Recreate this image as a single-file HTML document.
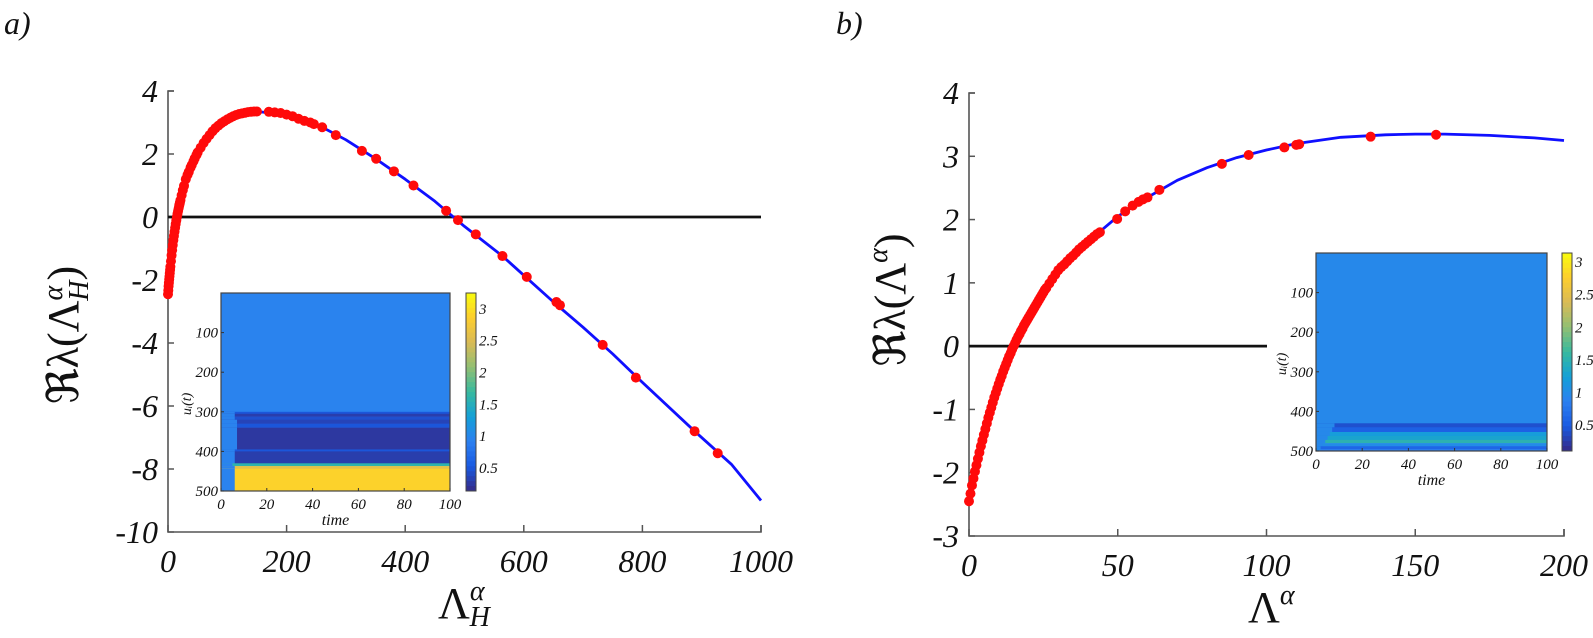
<!DOCTYPE html>
<html><head><meta charset="utf-8">
<style>
html,body{margin:0;padding:0;background:#fff;}
svg{display:block;}
text{font-family:"Liberation Serif",serif;fill:#111;}
.it{font-style:italic;}
</style></head>
<body>
<svg id="fig" width="1593" height="638" viewBox="0 0 1593 638" xmlns="http://www.w3.org/2000/svg">
<text class="it" x="4" y="34" font-size="32">a)</text>
<text class="it" x="836" y="34" font-size="32">b)</text>
<g id="pa"></g>
<g id="pb"></g>
<text transform="translate(78,335) rotate(-90)" text-anchor="middle" font-size="44">ℜλ(Λ<tspan class="it" font-size="28" dy="-16">α</tspan><tspan class="it" font-size="28" dx="-15" dy="26">H</tspan><tspan dy="-10">)</tspan></text>
<text x="438" y="618" font-size="44">Λ<tspan class="it" font-size="28" dy="-18">α</tspan><tspan class="it" font-size="28" dx="-15" dy="26">H</tspan></text>
<text transform="translate(905,300) rotate(-90)" text-anchor="middle" font-size="44">ℜλ(Λ<tspan class="it" font-size="28" dy="-18">α</tspan><tspan dy="18">)</tspan></text>
<text x="1248" y="622" font-size="44">Λ<tspan class="it" font-size="28" dy="-18">α</tspan></text>
</svg>
<script>
// ---------- Panel A data ----------
const aLineX = [0,5,10,15,20,30,50,75,100,150,200,250,300,350,400,450,500,564,600,650,700,750,800,888,950,1000];
const aLineY = [-2.45,-1.4,-0.6,0,0.45,1.2,2.05,2.75,3.1,3.35,3.25,2.95,2.45,1.85,1.2,0.5,-0.3,-1.24,-1.85,-2.7,-3.5,-4.35,-5.25,-6.8,-7.85,-9];
const aPtX = [0,1,2,3,4,5,7,9,11,13,15,18,21,25,30,35,40,45,50,60,70,80,90,100,110,120,130,140,150,170,180,190,200,210,220,230,240,246,260,283,327,351,381,414,469,489,519,564,605,655,661,733,789,888,927,
  0.5,1.5,2.5,3.5,6,8,10,12,14,16,17,19,20,23,27,33,38,43,48,55,65,75,85,95,105,115,125,135,145];
const aPtY = [-2.45,-2.2,-1.98,-1.78,-1.58,-1.4,-1.05,-0.74,-0.47,-0.22,0,0.28,0.53,0.85,1.2,1.43,1.65,1.86,2.05,2.35,2.6,2.82,2.98,3.1,3.2,3.27,3.31,3.34,3.35,3.34,3.32,3.3,3.25,3.2,3.12,3.05,3.0,2.95,2.85,2.6,2.1,1.85,1.45,1.0,0.2,-0.1,-0.55,-1.24,-1.9,-2.7,-2.8,-4.06,-5.1,-6.8,-7.5,
  -2.33,-2.09,-1.88,-1.68,-1.22,-0.89,-0.6,-0.34,-0.11,0.1,0.19,0.37,0.45,0.69,0.99,1.34,1.57,1.77,1.97,2.2,2.48,2.72,2.9,3.04,3.15,3.24,3.29,3.33,3.35];
const aXTicks = [0,200,400,600,800,1000];
const aYTicks = [-10,-8,-6,-4,-2,0,2,4];
const aBandStart = [0,300,305,312,320,330,340,395,400,430,437,444];
const aBandEnd   = [300,305,312,320,330,340,395,400,430,437,444,500];
const aBandVal   = [0.95,0.5,0.3,0.45,0.35,0.5,0.25,0.5,0.3,1.6,2.6,2.9];
const aTransientEnd = [0,6,6,6,7,7,7,6,6,5,6,6];
// ---------- Panel B data ----------
const bLineX = [0,2,5,10,15,20,25,30,40,50,60,70,80,90,100,110,125,140,150,160,175,190,200];
const bLineY = [-2.45,-1.98,-1.4,-0.6,0,0.45,0.85,1.2,1.65,2.05,2.35,2.62,2.82,2.98,3.1,3.2,3.3,3.34,3.35,3.35,3.33,3.29,3.25];
const bPtX = [0,0.5,1,1.5,2,3,4,5,6,7,8,9,10,11,12,13,14,15,16,17,18,19,20,21,22,23,24,25,26,27,28,30,32,34,36,38,40,42,44,49.8,52.5,55,57,58.5,60,64,85,94,106,110,111,135,157,
  2.5,3.5,4.5,5.5,6.5,7.5,8.5,9.5,10.5,11.5,12.5,13.5,14.5,15.5,16.5,17.5,18.5,19.5,20.5,21.5,22.5,23.5,24.5,25.5,29,31,33,35,37,39,41,43];
const bPtY = [-2.45,-2.33,-2.2,-2.09,-1.98,-1.78,-1.58,-1.4,-1.22,-1.05,-0.89,-0.74,-0.6,-0.47,-0.34,-0.22,-0.11,0,0.1,0.19,0.28,0.37,0.45,0.53,0.61,0.69,0.77,0.85,0.92,0.99,1.06,1.2,1.29,1.39,1.48,1.57,1.65,1.73,1.8,2.01,2.13,2.22,2.28,2.32,2.35,2.47,2.88,3.02,3.14,3.18,3.19,3.31,3.34,
  -1.88,-1.68,-1.49,-1.31,-1.13,-0.97,-0.81,-0.67,-0.53,-0.4,-0.28,-0.16,-0.05,0.05,0.15,0.24,0.33,0.41,0.49,0.57,0.65,0.73,0.81,0.89,1.13,1.25,1.34,1.43,1.53,1.61,1.69,1.77];
const bXTicks = [0,50,100,150,200];
const bYTicks = [-3,-2,-1,0,1,2,3,4];
const bBandStart = [0,430,440,452,462,472,480,488,495];
const bBandEnd   = [430,440,452,462,472,480,488,495,500];
const bBandVal   = [0.95,0.4,0.55,1.2,1.3,1.5,1.0,0.6,0.8];
const bTransientEnd = [0,8,7,6,5,4,3,2,2];
const insetYTicks = [100,200,300,400,500];
const insetXTicks = [0,20,40,60,80,100];
const cbTicks = [0.5,1,1.5,2,2.5,3];

const NS = "http://www.w3.org/2000/svg";
function mk(tag, attrs, parent){const e=document.createElementNS(NS,tag);for(const k in attrs)e.setAttribute(k,attrs[k]);parent.appendChild(e);return e;}
const parulaStops = [[53,42,135],[25,90,225],[44,128,240],[20,160,215],[56,185,158],[146,191,115],[217,186,86],[252,206,46],[249,251,14]];
function parula(t){t=Math.max(0,Math.min(1,t));const p=t*(parulaStops.length-1);const i=Math.min(Math.floor(p),parulaStops.length-2);const f=p-i;const a=parulaStops[i],b=parulaStops[i+1];return `rgb(${Math.round(a[0]+(b[0]-a[0])*f)},${Math.round(a[1]+(b[1]-a[1])*f)},${Math.round(a[2]+(b[2]-a[2])*f)})`;}

function panel(g, cfg){
  const sx = v => cfg.x0 + (v-cfg.xmin)/(cfg.xmax-cfg.xmin)*(cfg.x1-cfg.x0);
  const sy = v => cfg.y0 - (v-cfg.ymin)/(cfg.ymax-cfg.ymin)*(cfg.y0-cfg.y1);
  const ax = mk('path',{d:`M${cfg.x0+6},${sy(cfg.ymax)}H${cfg.x0}V${cfg.y0}H${cfg.x1}V${cfg.y0-7}`,stroke:'#555',fill:'none','stroke-width':1.6},g);
  
  
  cfg.yt.forEach(v=>{
    const t=mk('line',{x1:cfg.x0,x2:cfg.x0+6,y1:sy(v),y2:sy(v),stroke:'#555','stroke-width':1.5},g);
    
    
    const l=mk('text',{x:cfg.x0-10,y:sy(v)+11,'text-anchor':'end','font-size':32,'class':'it'},g);
    l.textContent=v;
    
    
  });
  cfg.xt.forEach(v=>{
    const t=mk('line',{x1:sx(v),x2:sx(v),y1:cfg.y0,y2:cfg.y0-7,stroke:'#555','stroke-width':1.5},g);
    
    
    const l=mk('text',{x:sx(v),y:cfg.y0+40,'text-anchor':'middle','font-size':32,'class':'it'},g);
    l.textContent=v;
    
    
  });
  const z=mk('line',{x1:cfg.x0,x2:cfg.zeroEnd,y1:sy(0),y2:sy(0),stroke:'#111','stroke-width':2.8},g);
  
  
  const d=cfg.lx.map((v,i)=>(i?'L':'M')+sx(v).toFixed(1)+','+sy(cfg.ly[i]).toFixed(1)).join('');
  const c=mk('path',{d:d,stroke:'#1010ff',fill:'none','stroke-width':2.8,'stroke-linejoin':'round'},g);
  
  
  cfg.px.forEach((v,i)=>{
    const p=mk('circle',{cx:sx(v),cy:sy(cfg.py[i]),r:5,fill:'#ff0a0a'},g);
    
    
  });
  const I=cfg.inset;
  const ig=mk('g',{},g);
  
  
  const ry = r => I.y0 + r/500*(I.y1-I.y0);
  const tx = t => I.x0 + t/100*(I.x1-I.x0);
  const cnorm = v => (v-I.cmin)/(I.cmax-I.cmin);
  I.bs.forEach((s,i)=>{
    const r=mk('rect',{x:I.x0,y:ry(s),width:I.x1-I.x0,height:ry(I.be[i])-ry(s)+0.3,fill:parula(cnorm(I.bv[i]))},ig);
    
    
    if(I.te[i]>0){
      const tr=mk('rect',{x:I.x0,y:ry(s),width:tx(I.te[i])-I.x0,height:ry(I.be[i])-ry(s)+0.3,fill:parula(cnorm(0.95))},ig);
      
      
    }
  });
  const fr=mk('rect',{x:I.x0,y:I.y0,width:I.x1-I.x0,height:I.y1-I.y0,fill:'none',stroke:'#444','stroke-width':1.2},ig);
  
  
  insetYTicks.forEach(v=>{
    const t=mk('line',{x1:I.x0,x2:I.x0+3,y1:ry(v),y2:ry(v),stroke:'#333'},ig);
    
    
    const l=mk('text',{x:I.x0-3,y:ry(v)+5,'text-anchor':'end','font-size':15,fill:'#333','class':'it'},ig);
    l.textContent=v;
    
    
  });
  insetXTicks.forEach(v=>{
    const t=mk('line',{x1:tx(v),x2:tx(v),y1:I.y1,y2:I.y1-3,stroke:'#333'},ig);
    
    
    const l=mk('text',{x:tx(v),y:I.y1+18,'text-anchor':'middle','font-size':15,fill:'#333','class':'it'},ig);
    l.textContent=v;
    
    
  });
  const tl=mk('text',{x:(I.x0+I.x1)/2,y:I.y1+34,'text-anchor':'middle','font-size':16,fill:'#333','class':'it'},ig);
  tl.textContent='time';
  
  
  const ul=mk('text',{transform:`translate(${I.x0-30},${ry(280)}) rotate(-90)`,'text-anchor':'middle','font-size':14,fill:'#333','class':'it'},ig);
  ul.textContent='uᵢ(t)';
  
  
  const N=40,h=(I.y1-I.y0)/N;
  for(let k=0;k<N;k++){
    const cr=mk('rect',{x:I.cbx,y:I.y0+k*h,width:10,height:h+0.5,fill:parula(1-(k+0.5)/N)},ig);
    
    
  }
  const cf=mk('rect',{x:I.cbx,y:I.y0,width:10,height:I.y1-I.y0,fill:'none',stroke:'#444'},ig);
  
  
  cbTicks.forEach(v=>{
    const yy=I.y1-cnorm(v)*(I.y1-I.y0);
    const l=mk('text',{x:I.cbx+13,y:yy+5,'font-size':15,fill:'#333','class':'it'},ig);
    l.textContent=v;
    
    
  });
}
panel(document.getElementById('pa'),{x0:168,x1:761,y0:532,y1:91,xmin:0,xmax:1000,ymin:-10,ymax:4,zeroEnd:761,
  xt:aXTicks,yt:aYTicks,lx:aLineX,ly:aLineY,px:aPtX,py:aPtY,
  inset:{x0:221,x1:450,y0:293,y1:491,cbx:466,cmin:0.14,cmax:3.25,bs:aBandStart,be:aBandEnd,bv:aBandVal,te:aTransientEnd}});
panel(document.getElementById('pb'),{x0:969,x1:1564,y0:536,y1:93,xmin:0,xmax:200,ymin:-3,ymax:4,zeroEnd:1267,
  xt:bXTicks,yt:bYTicks,lx:bLineX,ly:bLineY,px:bPtX,py:bPtY,
  inset:{x0:1316,x1:1547,y0:253,y1:451,cbx:1562,cmin:0.1,cmax:3.14,bs:bBandStart,be:bBandEnd,bv:bBandVal,te:bTransientEnd}});
</script>
</body></html>
